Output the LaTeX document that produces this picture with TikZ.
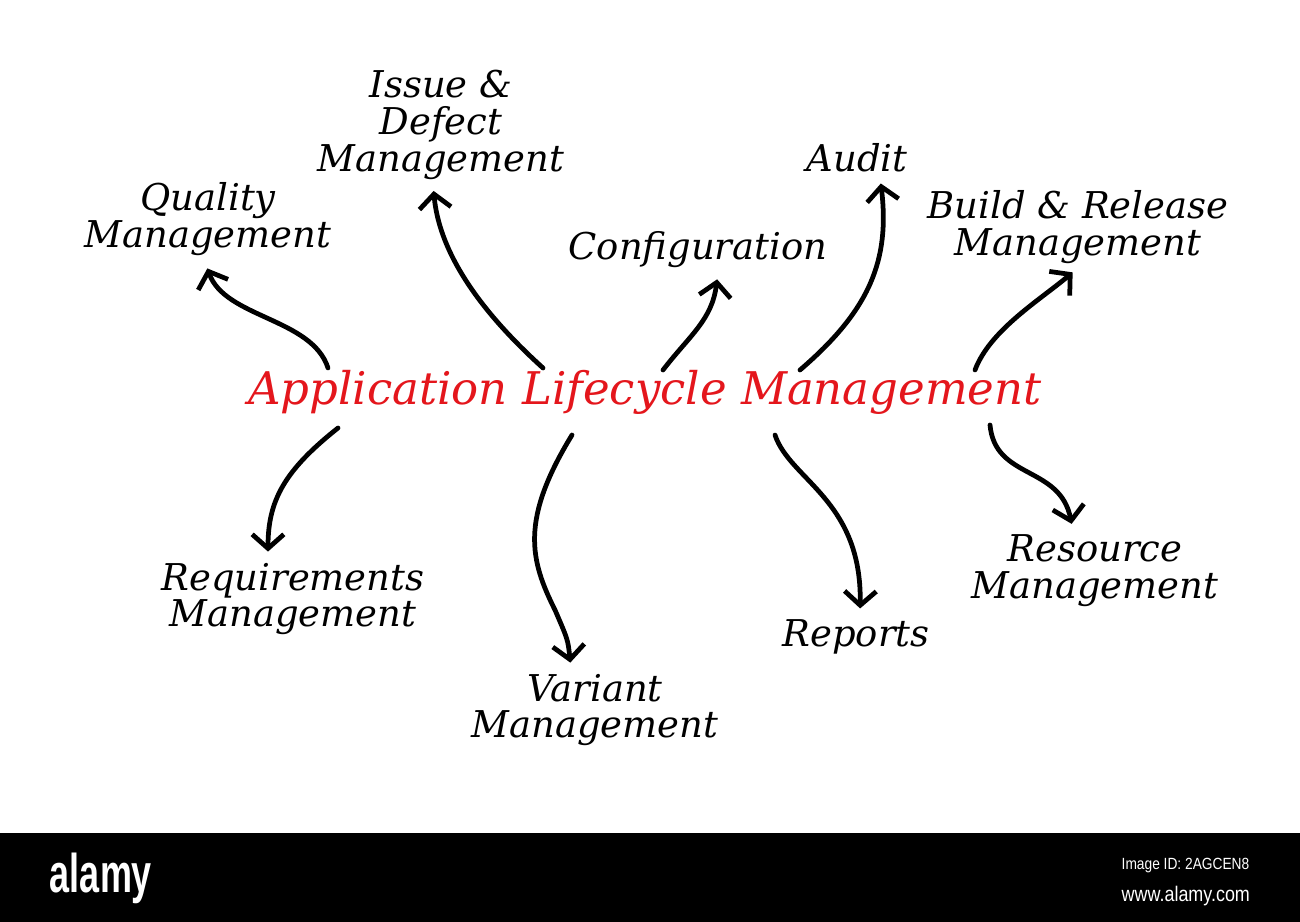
\documentclass[tikz,border=0pt]{standalone}
\usepackage{fontspec}
\usepackage{graphicx}
\usetikzlibrary{arrows.meta}
\usetikzlibrary{calc}
\newfontfamily\handfont{DejaVu Serif}
\newfontfamily\bannerfont{Liberation Sans}
\definecolor{almred}{RGB}{228,22,28}
\tikzset{
  lbl/.style={font=\handfont\itshape\fontsize{10.5}{10.5}\selectfont,align=center,inner sep=1pt},
  hub/.style={font=\handfont\itshape\fontsize{12.8}{15}\selectfont,text=almred,inner sep=1pt},
  arr/.style={line width=1.35pt,line cap=round,line join=round,-{Straight Barb[length=4pt,width=9pt]},shorten >=2pt}
}
\begin{document}
\begin{tikzpicture}[x=0.01cm,y=-0.01cm]
\useasboundingbox (0,0) rectangle (1300,922);
\fill[white] (0,0) rectangle (1300,922);

% centre
\node[hub] (alm) at (645,392) {Application Lifecycle Management};

% labels
\node[lbl] (qual) at (208,219) {Quality\\Management};
\node[lbl] (iss) at (441,125) {Issue \&\\Defect\\Management};
\node[lbl] (conf) at (698,250) {Configuration};
\node[lbl] (audit) at (857,158) {Audit};
\node[lbl] (build) at (1078,227) {Build \& Release\\Management};
\node[lbl] (req) at (293,599) {Requirements\\Management};
\node[lbl] (var) at (595,710) {Variant\\Management};
\node[lbl] (rep) at (856,637) {Reports};
\node[lbl] (res) at (1095,571) {Resource\\Management};

% start points on the centre text
\coordinate (q0) at (328,368);
\coordinate (i0) at (543,368);
\coordinate (c0) at (663,370);
\coordinate (a0) at (800,370);
\coordinate (b0) at (975,370);
\coordinate (r0) at (338,428);
\coordinate (v0) at (572,435);
\coordinate (p0) at (775,435);
\coordinate (s0) at (990,425);

\draw[arr] (q0) .. controls (312,318) and (225,318) .. ($(qual.south)+(-3,2)$);
\draw[arr] (i0) .. controls (490,320) and (440,260) .. ($(iss.south)+(-8,0)$);
\draw[arr] (c0) .. controls (690,335) and (712,320) .. ($(conf.south)+(20,0)$);
\draw[arr] (a0) .. controls (870,310) and (890,260) .. ($(audit.south)+(23,0)$);
\draw[arr] (b0) .. controls (990,330) and (1040,300) .. (build.south);
\draw[arr] (r0) .. controls (285,470) and (268,500) .. ($(req.north)+(-25,0)$);
\draw[arr] (v0) .. controls (520,520) and (530,560) .. (555,610) .. controls (568,640) .. ($(var.north)+(-24,0)$);
\draw[arr] (p0) .. controls (790,480) and (862,500) .. ($(rep.north)+(4,0)$);
\draw[arr] (s0) .. controls (995,480) and (1060,465) .. ($(res.north)+(-22,0)$);

% banner
\fill[black] (0,833) rectangle (1300,922);
\node[text=white,inner sep=0pt,font=\bannerfont\bfseries\fontsize{15.5}{17}\selectfont] (logo) at (101,878) {\scalebox{0.66}[1]{alamy}};
\node[text=white,inner sep=0pt,anchor=west,font=\bannerfont\fontsize{4.6}{5}\selectfont] (imgid) at (1121,866) {\scalebox{0.85}[1]{Image ID: 2AGCEN8}};
\node[text=white,inner sep=0pt,anchor=west,font=\bannerfont\fontsize{6}{7}\selectfont] (www) at (1121,896) {\scalebox{0.85}[1]{www.alamy.com}};
\end{tikzpicture}
\end{document}
